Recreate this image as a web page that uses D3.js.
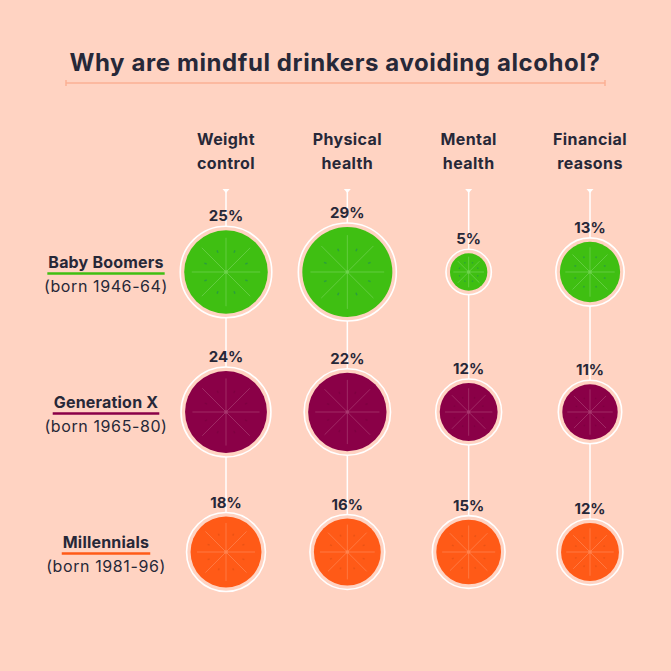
<!DOCTYPE html>
<html>
<head>
<meta charset="utf-8">
<script src="https://cdn.jsdelivr.net/npm/d3@7"></script>
<style>
  html, body { margin: 0; padding: 0; background: #ffd3c2; }
  svg { display: block; }
  text { font-family: Inter, "Open Sans", sans-serif; fill: #272838; }
</style>
</head>
<body>
<div id="chart"></div>
<script>
const reasons = [["Weight", "control"], ["Physical", "health"], ["Mental", "health"], ["Financial", "reasons"]];
const generations = ["Baby Boomers", "Generation X", "Millennials"];
const born = ["(born 1946-64)", "(born 1965-80)", "(born 1981-96)"];
const genColors = ["#3fbf12", "#8a0047", "#ff5a17"];
const spokeColors = ["#6fd24f", "#a8386f", "#ff8450"];
const boomers = [25, 29, 5, 13];
const genX = [24, 22, 12, 11];
const millennials = [18, 16, 15, 12];
const values = [boomers, genX, millennials];

const width = 671, height = 671;
const bg = "#ffd3c2";

const svg = d3.select("#chart").append("svg")
    .attr("width", width)
    .attr("height", height);

svg.append("rect").attr("width", width).attr("height", height).attr("fill", bg);

// title + salmon rule
svg.append("text")
    .attr("x", 335).attr("y", 71)
    .attr("text-anchor", "middle")
    .attr("font-size", 24).attr("font-weight", 700)
    .attr("letter-spacing", 0.6)
    .text("Why are mindful drinkers avoiding alcohol?");

svg.append("line")
    .attr("x1", 66).attr("x2", 605).attr("y1", 83).attr("y2", 83)
    .attr("stroke", "#fbb095").attr("stroke-width", 1.5);
[66, 605].forEach(x => {
    svg.append("line")
        .attr("x1", x).attr("x2", x).attr("y1", 80).attr("y2", 86)
        .attr("stroke", "#fbb095").attr("stroke-width", 1.5);
});

const x = d3.scalePoint()
    .domain(d3.range(reasons.length))
    .range([226, 590]);

const y = d3.scalePoint()
    .domain(d3.range(generations.length))
    .range([272, 552]);

const r = d3.scaleSqrt()
    .domain([0, 29])
    .range([0, 45]);

// column headers
const head = svg.append("g").selectAll("text")
    .data(reasons)
    .join("text")
    .attr("text-anchor", "middle")
    .attr("font-size", 16).attr("font-weight", 700)
    .attr("letter-spacing", 0.4);
head.append("tspan").attr("x", (d, i) => x(i)).attr("y", 145).text(d => d[0]);
head.append("tspan").attr("x", (d, i) => x(i)).attr("y", 169).text(d => d[1]);

// vertical guide lines with small triangles
const guides = svg.append("g");
reasons.forEach((d, i) => {
    const lastR = r(values[values.length - 1][i]);
    guides.append("line")
        .attr("x1", x(i)).attr("x2", x(i))
        .attr("y1", 190).attr("y2", y(generations.length - 1) - lastR - 4)
        .attr("stroke", "#fff").attr("stroke-width", 1.5);
    guides.append("path")
        .attr("d", `M${x(i) - 3.5},189 L${x(i) + 3.5},189 L${x(i)},193 Z`)
        .attr("fill", "#fff");
});

// row labels
const rows = svg.append("g").selectAll("g")
    .data(generations)
    .join("g")
    .attr("transform", (d, i) => `translate(106,${y(i)})`);

rows.append("text")
    .attr("text-anchor", "middle")
    .attr("y", -4)
    .attr("font-size", 16).attr("font-weight", 700)
    .attr("letter-spacing", 0.2)
    .text(d => d)
    .each(function(d, i) {
        const w = this.getComputedTextLength();
        d3.select(this.parentNode).append("line")
            .attr("x1", -w / 2 - 1).attr("x2", w / 2 + 1)
            .attr("y1", 1.5).attr("y2", 1.5)
            .attr("stroke", genColors[i]).attr("stroke-width", 2.5);
    });

rows.append("text")
    .attr("text-anchor", "middle")
    .attr("y", 20)
    .attr("font-size", 16)
    .attr("letter-spacing", 0.6)
    .text((d, i) => born[i]);

// citrus slices
const cells = [];
values.forEach((row, gi) => row.forEach((v, ci) => cells.push({ gi, ci, v })));

const slice = svg.append("g").selectAll("g")
    .data(cells)
    .join("g")
    .attr("transform", d => `translate(${x(d.ci)},${y(d.gi)})`);

slice.append("circle")
    .attr("r", d => r(d.v) + 4)
    .attr("fill", bg)
    .attr("stroke", "#fff").attr("stroke-width", 1.6);

slice.append("circle")
    .attr("r", d => r(d.v))
    .attr("fill", d => genColors[d.gi]);

slice.each(function(d) {
    const g = d3.select(this);
    const rr = r(d.v);
    d3.range(8).forEach(k => {
        const a = k * Math.PI / 4;
        g.append("line")
            .attr("x1", 0).attr("y1", 0)
            .attr("x2", Math.cos(a) * rr * 0.82)
            .attr("y2", Math.sin(a) * rr * 0.82)
            .attr("stroke", spokeColors[d.gi])
            .attr("stroke-width", 1)
            .attr("opacity", 0.75);
        const b = a + Math.PI / 8;
        g.append("line")
            .attr("x1", Math.cos(b) * rr * 0.5).attr("y1", Math.sin(b) * rr * 0.5)
            .attr("x2", Math.cos(b) * rr * 0.56).attr("y2", Math.sin(b) * rr * 0.56)
            .attr("stroke", d.gi === 0 ? "#1f8a5a" : "#000")
            .attr("stroke-width", 1.4)
            .attr("opacity", d.gi === 0 ? 0.6 : 0.08);
    });
    g.append("circle").attr("r", 1.8).attr("fill", spokeColors[d.gi]);
});

slice.append("text")
    .attr("text-anchor", "middle")
    .attr("y", d => -r(d.v) - 9)
    .attr("font-size", 15).attr("font-weight", 700)
    .text(d => d.v + "%");
</script>
</body>
</html>
